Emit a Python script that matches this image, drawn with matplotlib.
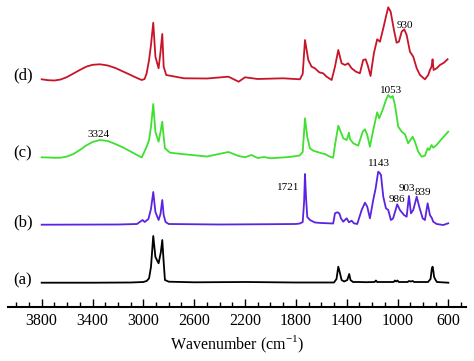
import matplotlib
matplotlib.use("Agg")
import matplotlib.pyplot as plt
from matplotlib.ticker import MultipleLocator

plt.rcParams["font.family"] = ["Liberation Serif", "DejaVu Serif"]
plt.rcParams["mathtext.fontset"] = "custom"
plt.rcParams["mathtext.rm"] = "Liberation Serif"

# (a) black
wn_a = [3800, 3400, 3100, 3000, 2974, 2955, 2940, 2922, 2905, 2880, 2862, 2851, 2840, 2830,
        2800, 2600, 2200, 1800, 1500, 1480, 1466, 1455, 1440, 1420, 1395, 1380, 1370, 1350,
        1300, 1250, 1180, 1170, 1160, 1030, 1020, 1010, 1000, 990, 920, 910, 895, 880, 870,
        760, 740, 730, 724, 718, 712, 700, 690, 600]
int_a = [24.3, 24.3, 24.5, 25, 26, 28.7, 40, 71, 50, 43.7, 55, 67, 45, 27,
         25.3, 24.7, 25, 24.5, 24.5, 28, 40.3, 35, 27, 25.5, 27, 33, 27, 25,
         25, 24.8, 25, 26.5, 25, 25, 26.5, 25.5, 26.5, 25, 25, 26, 25.5, 26, 25,
         25, 28, 38, 40.3, 36, 30, 27, 25, 24.3]

# (b) purple
wn_b = [3800, 3200, 3050, 3006, 2990, 2960, 2940, 2922, 2905, 2880, 2865, 2851, 2840, 2825,
        2800, 2400, 2000, 1800, 1768, 1746, 1735, 1728, 1720, 1710, 1689, 1650, 1600, 1506,
        1492, 1474, 1458, 1445, 1427, 1400, 1382, 1361, 1343, 1317, 1282, 1256, 1238, 1217,
        1191, 1172, 1152, 1140, 1130, 1112, 1091, 1073, 1052, 1035, 1002, 981, 949, 928,
        910, 894, 876, 849, 829, 802, 784, 763, 745, 730, 719, 692, 640, 601]
int_b = [82.3, 82.5, 83, 87, 85, 88, 98, 115, 95, 87, 93, 107, 92, 85,
         83, 82.5, 82.8, 83, 83.5, 85, 105, 133, 110, 90, 87, 84.5, 84, 83.5,
         93.7, 94.7, 93.7, 88.7, 85.3, 88.7, 84.7, 86.3, 83.7, 83, 97, 104.3, 100.3, 88.7,
         107, 118.7, 135.3, 134, 132, 110.3, 98.7, 97, 87, 88.5, 102.7, 97, 92, 90.3,
         111, 93.7, 97, 110.3, 100.3, 88.7, 87, 103.7, 92, 89, 85.3, 83, 82, 83.7]

# (c) green
wn_c = [3800, 3750, 3700, 3650, 3600, 3550, 3500, 3450, 3400, 3341, 3280, 3220, 3160, 3100,
        3050, 3013, 2974, 2955, 2940,
        2922, 2905, 2880, 2865, 2851, 2840, 2830, 2790, 2700, 2500, 2330, 2250, 2200, 2150,
        2100, 2050, 2000, 1850, 1770, 1746, 1728, 1710, 1689, 1663, 1597, 1571, 1532, 1506,
        1492, 1466, 1447, 1427, 1400, 1382, 1374, 1348, 1309, 1274, 1256, 1238, 1217, 1191,
        1160, 1144, 1117, 1091, 1073, 1054, 1038, 1020, 994, 967, 941, 916, 881, 863, 837,
        810, 784, 763, 750, 732, 719, 692, 653, 601]
int_c = [149.7, 149.5, 149.2, 149.3, 150.5, 153, 157, 161.5, 165, 167, 166, 163, 159.5, 155.5,
         152, 149.5, 160.3, 167, 180,
         203, 175, 165.3, 175, 185.3, 170, 158.7, 154.3, 153, 150.5, 155, 151, 149.7, 152,
         149, 150, 148.7, 150, 151.5, 155, 188.7, 170, 158.7, 156.3, 153.7, 153, 150.3, 149.3,
         162, 181.3, 175.3, 168.7, 167, 174.3, 168, 163.7, 161.3, 175.3, 177.7, 172, 160.3, 177,
         194.7, 188.7, 197, 207, 212, 209.3, 211, 202, 180.3, 175.3, 172.7, 163.7, 170.3, 165.3, 155.3,
         150.3, 151.3, 158.7, 157, 162, 159.3, 162, 168, 175.3]

# (d) red
wn_d = [3800, 3750, 3700, 3650, 3600, 3550, 3500, 3450, 3400, 3341, 3280, 3220, 3160, 3100,
        3050, 3013, 2990, 2974, 2955, 2940,
        2922, 2905, 2880, 2865, 2851, 2840, 2820, 2680, 2500, 2330, 2250, 2200, 2100, 1900,
        1768, 1746, 1728, 1702, 1676, 1650, 1616, 1585, 1558, 1518, 1492, 1466, 1440, 1413,
        1388, 1361, 1327, 1296, 1270, 1251, 1235, 1212, 1186, 1160, 1138, 1112, 1091, 1073,
        1054, 1028, 1007, 989, 967, 947, 928, 902, 876, 849, 823, 784, 758, 745, 732, 724,
        716, 692, 666, 635, 606]
int_d = [227.7, 226.8, 226.5, 227.5, 230, 233.5, 237, 240.3, 242.2, 242.7, 241.5, 239, 235.5, 232,
         229, 227, 228, 233.7, 247, 262,
         284.3, 250.3, 238.7, 255, 273, 240.3, 232, 228.7, 228.5, 230.3, 225.3, 229.7, 228, 228.7,
         227.7, 233, 267, 247, 240.3, 238.7, 234.7, 233.7, 230.3, 227, 240.3, 257, 243.7, 242,
         243.7, 238.7, 235.3, 233.7, 247, 247.7, 242, 231, 253.7, 267.7, 265.3, 278.7, 290.3, 299.7,
         295.3, 277, 264.3, 265.3, 275.3, 277.7, 272, 255.3, 250.3, 238.7, 232, 227.7, 232, 237, 240.3, 247.7,
         237, 238.7, 242, 244.3, 247.7]

traces = [
    ("(a)", wn_a, int_a, "#000000", 27),
    ("(b)", wn_b, int_b, "#5a24e0", 84.7),
    ("(c)", wn_c, int_c, "#3fe030", 153.7),
    ("(d)", wn_d, int_d, "#c81428", 232),
]

peak_labels = ["930", "1053", "3324", "1143", "1721", "986", "903", "839"]
peak_wn = [942, 1054, 3355, 1146, 1858, 1002, 928, 797]
peak_int = [281.3, 216.3, 172.7, 143, 119.3, 107.7, 118.7, 114.3]

fig = plt.figure(figsize=(4.74, 3.61), dpi=100)
ax = fig.add_axes([8 / 474, 54 / 361, 458 / 474, 307 / 361])

for name, wn, val, col, ylab in traces:
    ax.plot(wn, val, color=col, linewidth=1.3)
    ax.text(3947, ylab, name, ha="center", va="center", fontsize=12)

for lab, x, y in zip(peak_labels, peak_wn, peak_int):
    ax.text(x, y, lab, ha="center", va="center", fontsize=8)

ax.set_xlim(4065, 461)
ax.set_ylim(0, 307)
ax.set_yticks([])
for s in ["left", "right", "top"]:
    ax.spines[s].set_visible(False)
ax.spines["bottom"].set_linewidth(1.5)
ax.xaxis.set_minor_locator(MultipleLocator(100))
ax.set_xticks([3800, 3400, 3000, 2600, 2200, 1800, 1400, 1000, 600])
ax.tick_params(axis="x", which="major", direction="in", length=5.5, width=1, labelsize=11.5, pad=4)
ax.tick_params(axis="x", which="minor", direction="in", length=3.6, width=1)
ax.set_xlabel("Wavenumber (cm$^{\\mathregular{-1}}$)", fontsize=11.5, labelpad=4)
ax.patch.set_alpha(0)

fig.savefig("out.png", dpi=100, facecolor="white")
